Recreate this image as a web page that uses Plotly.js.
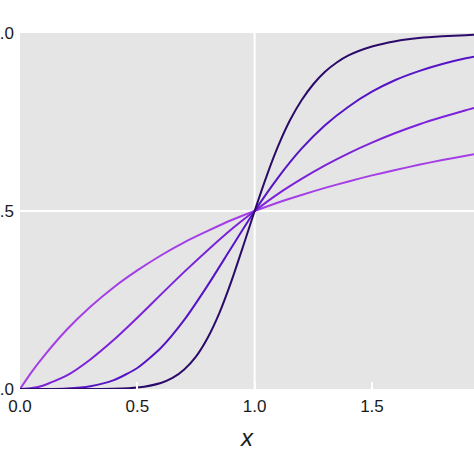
<!DOCTYPE html>
<html>
<head>
<meta charset="utf-8">
<script src="https://cdn.plot.ly/plotly-3.0.1.min.js"></script>
<style>
  html, body { margin: 0; padding: 0; background: #fff; }
  #graph { width: 474px; height: 474px; }
</style>
</head>
<body>
<div id="graph"></div>
<script>
// values (curves all cross at x = 1, y = 0.5)
var xVals = [0, 0.05, 0.1, 0.2, 0.3, 0.4, 0.5, 0.6, 0.7, 0.8, 0.9, 1.0,
             1.1, 1.2, 1.3, 1.4, 1.5, 1.6, 1.7, 1.8, 1.9, 1.94];

var yN1 = [0, 0.048, 0.091, 0.167, 0.231, 0.286, 0.333, 0.375, 0.412, 0.444, 0.474, 0.5,
           0.524, 0.545, 0.565, 0.583, 0.600, 0.615, 0.630, 0.643, 0.655, 0.660];
var yN2 = [0, 0.0025, 0.010, 0.038, 0.083, 0.138, 0.200, 0.265, 0.329, 0.390, 0.448, 0.5,
           0.548, 0.590, 0.628, 0.662, 0.692, 0.719, 0.743, 0.764, 0.783, 0.790];
var yN4 = [0, 0, 0.0001, 0.0016, 0.008, 0.025, 0.059, 0.115, 0.194, 0.291, 0.396, 0.5,
           0.594, 0.675, 0.741, 0.793, 0.835, 0.868, 0.893, 0.913, 0.929, 0.934];

// steepest curve needs more points through the middle
var xN8 = [0, 0.2, 0.4, 0.5, 0.6, 0.65, 0.7, 0.75, 0.8, 0.85, 0.9, 0.95, 1.0,
           1.05, 1.1, 1.15, 1.2, 1.25, 1.3, 1.35, 1.4, 1.5, 1.6, 1.7, 1.8, 1.9, 1.94];
var yN8 = [0, 0, 0.0007, 0.004, 0.017, 0.031, 0.055, 0.091, 0.144, 0.214, 0.301, 0.399, 0.5,
           0.596, 0.682, 0.754, 0.811, 0.856, 0.891, 0.917, 0.937, 0.962, 0.977, 0.986, 0.991, 0.994, 0.995];

var lineColors = ['#a43ee6', '#7c22da', '#5614c6', '#2c0a6a'];

function curve(x, y, color) {
    return {
        x: x,
        y: y,
        mode: 'lines',
        line: { color: color, width: 2, shape: 'spline', smoothing: 0.6 },
        hoverinfo: 'skip'
    };
}

var data = [
    curve(xVals, yN1, lineColors[0]),
    curve(xVals, yN2, lineColors[1]),
    curve(xVals, yN4, lineColors[2]),
    curve(xN8, yN8, lineColors[3])
];

var tickFont = { family: 'Liberation Sans, Arial, sans-serif', size: 17, color: '#1a1a1a' };

var layout = {
    width: 474,
    height: 474,
    showlegend: false,
    paper_bgcolor: '#ffffff',
    plot_bgcolor: '#e5e5e5',
    margin: { l: 20, r: 0, t: 33, b: 85 },
    xaxis: {
        range: [0, 1.935],
        tickvals: [0, 0.5, 1.0, 1.5],
        ticktext: ['0.0', '0.5', '1.0', '1.5'],
        showgrid: false,
        zeroline: false,
        showline: false,
        ticks: 'inside',
        ticklen: 7,
        tickwidth: 2,
        tickcolor: '#ffffff',
        ticklabelstandoff: 5,
        tickfont: tickFont,
        title: {
            text: '<i>x</i>',
            font: { family: 'Liberation Sans, Arial, sans-serif', size: 24, color: '#1a1a1a' },
            standoff: 14
        }
    },
    yaxis: {
        range: [0, 1],
        tickvals: [0, 0.5, 1.0],
        ticktext: ['0.0', '0.5', '1.0'],
        showgrid: false,
        zeroline: false,
        showline: false,
        ticks: '',
        ticklabelstandoff: 5,
        tickfont: tickFont
    },
    shapes: [
        { type: 'line', layer: 'below', xref: 'x', yref: 'paper', x0: 1, x1: 1, y0: 0, y1: 1,
          line: { color: '#ffffff', width: 2 } },
        { type: 'line', layer: 'below', xref: 'paper', yref: 'y', x0: 0, x1: 1, y0: 0.5, y1: 0.5,
          line: { color: '#ffffff', width: 2 } }
    ]
};

Plotly.newPlot('graph', data, layout, { staticPlot: true });
</script>
</body>
</html>
